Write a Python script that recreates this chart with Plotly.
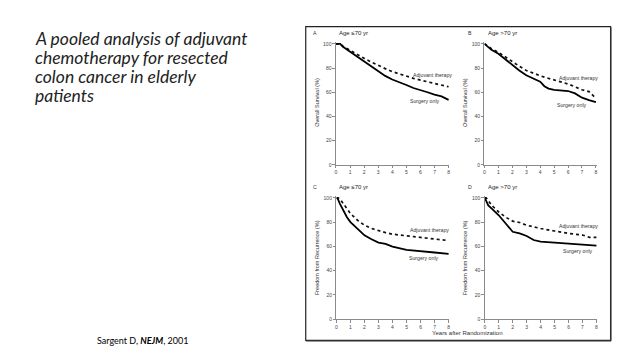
import plotly.graph_objects as go

W, H = 638, 359

# ---------------- data ----------------
years_a = [0, 0.3, 0.5, 1, 1.5, 2, 2.5, 3, 3.5, 4, 4.5, 5, 5.5, 6, 6.5, 7, 7.5, 8]
a_surgery = [100, 100, 97.5, 93.5, 89, 85, 81, 77, 73.5, 70.5, 68.5, 66, 63.5, 62, 60, 58, 56.5, 53.7]
a_adjuvant = [100, 100, 98, 94.5, 91, 88, 85, 82, 79.5, 77, 75, 73, 71.5, 70, 68.5, 67, 66, 64.5]

years_b = [0, 0.5, 1, 1.5, 2, 2.5, 3, 3.5, 4, 4.3, 4.6, 5, 5.5, 6, 6.5, 7, 7.5, 8]
b_surgery = [100, 95, 91.8, 87, 82, 78, 74, 71.5, 68.7, 65, 63, 62, 61.5, 61, 59, 55.5, 53.5, 51.8]
b_adjuvant = [100, 96, 93, 89, 85, 81.5, 78, 75.5, 73.6, 72.5, 71.5, 70, 68.5, 66.8, 64.5, 62, 60.5, 55]

years_c = [0, 0.1, 0.25, 0.5, 0.75, 1, 1.5, 2, 2.5, 3, 3.5, 4, 5, 6, 7, 8]
c_surgery = [100, 99, 95, 89.7, 84, 80, 74.7, 69, 65.8, 63, 62, 59.8, 57, 55.7, 54.9, 53.8]
c_adjuvant = [100, 100, 99, 95, 90.5, 87, 81.5, 77.4, 74.7, 72.8, 71.3, 70, 68.5, 67, 66, 64.7]

years_d = [0, 0.1, 0.25, 0.5, 1, 1.5, 2, 2.5, 3, 3.5, 4, 5, 6, 7, 7.5, 8]
d_surgery = [100, 97.8, 93.7, 91, 85.6, 78.8, 72, 70.6, 68.5, 65.2, 63.9, 63, 62, 61.4, 61, 60.6]
d_adjuvant = [100, 100, 97.8, 93.7, 88.3, 84, 80.7, 79.6, 77.4, 76, 74.7, 72.6, 70.6, 69.3, 67.4, 67.4]

x_ticks = [0, 1, 2, 3, 4, 5, 6, 7, 8]
y_ticks = [0, 20, 40, 60, 80, 100]

title_lines = ["A pooled analysis of adjuvant", "chemotherapy for resected",
               "colon cancer in elderly", "patients"]

panels = [
    dict(letter="A", age="Age \u226470 yr", ylab="Overall Survival (%)",
         x=years_a, s=a_surgery, a=a_adjuvant),
    dict(letter="B", age="Age >70 yr", ylab="Overall Survival (%)",
         x=years_b, s=b_surgery, a=b_adjuvant),
    dict(letter="C", age="Age \u226470 yr", ylab="Freedom from Recurrence (%)",
         x=years_c, s=c_surgery, a=c_adjuvant),
    dict(letter="D", age="Age >70 yr", ylab="Freedom from Recurrence (%)",
         x=years_d, s=d_surgery, a=d_adjuvant),
]

# ---------------- layout geometry (pixels) ----------------
# (x0px, x8px, y0px, y100px)
geo = [
    (336.0, 449.0, 165.7, 43.3),
    (485.0, 596.8, 165.7, 43.3),
    (336.5, 449.0, 321.7, 199.0),
    (485.3, 597.3, 321.7, 199.0),
]
# label positions (px)
labpos = [
    dict(letter=(315, 32.5), age=(337, 32.5), ylab=(317, 103), adj=(433, 75), surg=(425, 101.5)),
    dict(letter=(470, 32.5), age=(487, 32.5), ylab=(465.5, 103), adj=(579, 78), surg=(573, 105.5)),
    dict(letter=(315, 188.5), age=(337, 188.5), ylab=(317, 260), adj=(430, 232), surg=(424, 260)),
    dict(letter=(470, 188.5), age=(487, 188.5), ylab=(465.5, 260), adj=(579, 227.5), surg=(579, 253)),
]

def px(x):
    return x / W

def py(y):
    return 1 - y / H

YTOP = 101.5
XTOP = 8.05

fig = go.Figure()
annotations = []
fs_small = 5.2
fs_age = 6
font_fam = "Liberation Sans, Arial, sans-serif"
axcol = "#8a8a8a"

for i, (p, g, lp) in enumerate(zip(panels, geo, labpos)):
    n = i + 1
    xa = "x" if n == 1 else f"x{n}"
    ya = "y" if n == 1 else f"y{n}"
    x0, x8, y0, y100 = g
    pxu = (x8 - x0) / 8
    pyu = (y0 - y100) / 100
    xdom = [px(x0), px(x0 + XTOP * pxu)]
    ydom = [py(y0), py(y0 - YTOP * pyu)]
    fig.add_trace(go.Scatter(x=p["x"], y=p["a"], mode="lines", xaxis=xa, yaxis=ya,
                             line=dict(color="#111", width=1.7, dash="dot"),
                             showlegend=False, hoverinfo="skip"))
    fig.add_trace(go.Scatter(x=p["x"], y=p["s"], mode="lines", xaxis=xa, yaxis=ya,
                             line=dict(color="#000", width=1.8),
                             showlegend=False, hoverinfo="skip"))
    common = dict(showgrid=False, zeroline=False, showline=True, linecolor=axcol, linewidth=1,
                  ticks="outside", ticklen=2.5, tickwidth=0.8, tickcolor=axcol,
                  tickfont=dict(size=5, color="#444", family=font_fam))
    fig.layout[f"xaxis{'' if n == 1 else n}"] = dict(
        domain=xdom, range=[0, XTOP], anchor=ya, tickmode="array", tickvals=x_ticks,
        ticktext=[str(t) for t in x_ticks], **common)
    fig.layout[f"yaxis{'' if n == 1 else n}"] = dict(
        domain=ydom, range=[0, YTOP], anchor=xa, tickmode="array", tickvals=y_ticks,
        ticktext=[str(t) for t in y_ticks], **common)

    def ann(text, pos, size, anchor="center", angle=0, color="#333"):
        annotations.append(dict(text=text, x=px(pos[0]), y=py(pos[1]), xref="paper", yref="paper",
                                showarrow=False, xanchor=anchor, yanchor="middle", textangle=angle,
                                font=dict(size=size, color=color, family=font_fam)))
    ann(p["letter"], lp["letter"], fs_small, "center")
    ann(p["age"], lp["age"], fs_age, "left", color="#222")
    ann(p["ylab"], lp["ylab"], 5.5, "center", angle=-90)
    ann("Adjuvant therapy", lp["adj"], fs_small, "center")
    ann("Surgery only", lp["surg"], fs_small, "center")

annotations.append(dict(text="Years after Randomization", x=px(468), y=py(336), xref="paper",
                        yref="paper", showarrow=False, xanchor="center", yanchor="middle",
                        font=dict(size=6, color="#333", family=font_fam)))

# slide title (one annotation per line for tight line spacing) and citation
title_y = [37.5, 57, 76.5, 96]
for line, ty in zip(title_lines, title_y):
    annotations.append(dict(
        text=f"<i>{line}</i>", x=px(32), y=py(ty), xref="paper", yref="paper", showarrow=False,
        xanchor="left", yanchor="middle", align="left",
        font=dict(size=17.5, color="#222", family="Lato, sans-serif")))
annotations.append(dict(
    text="Sargent D, <b><i>NEJM</i></b>, 2001", x=px(94), y=py(343), xref="paper", yref="paper",
    showarrow=False, xanchor="left", yanchor="middle",
    font=dict(size=9, color="#000", family="Lato, sans-serif")))

shapes = [
    dict(type="rect", xref="paper", yref="paper", x0=px(305.7), x1=px(611.5), y0=py(343.2), y1=py(26),
         line=dict(color="#222", width=1.2)),
    dict(type="line", xref="paper", yref="paper", x0=px(611.8), x1=px(611.8), y0=py(343.5), y1=py(26.5),
         line=dict(color="#333", width=1.2)),
    dict(type="line", xref="paper", yref="paper", x0=px(306), x1=px(612), y0=py(343.8), y1=py(343.8),
         line=dict(color="#333", width=1.2)),
]

fig.update_layout(width=W, height=H, margin=dict(l=0, r=0, t=0, b=0),
                  paper_bgcolor="white", plot_bgcolor="white",
                  annotations=annotations, shapes=shapes, showlegend=False)

fig.write_html("out.html", config={"displayModeBar": False},
               post_script="document.body.style.margin='0';")
